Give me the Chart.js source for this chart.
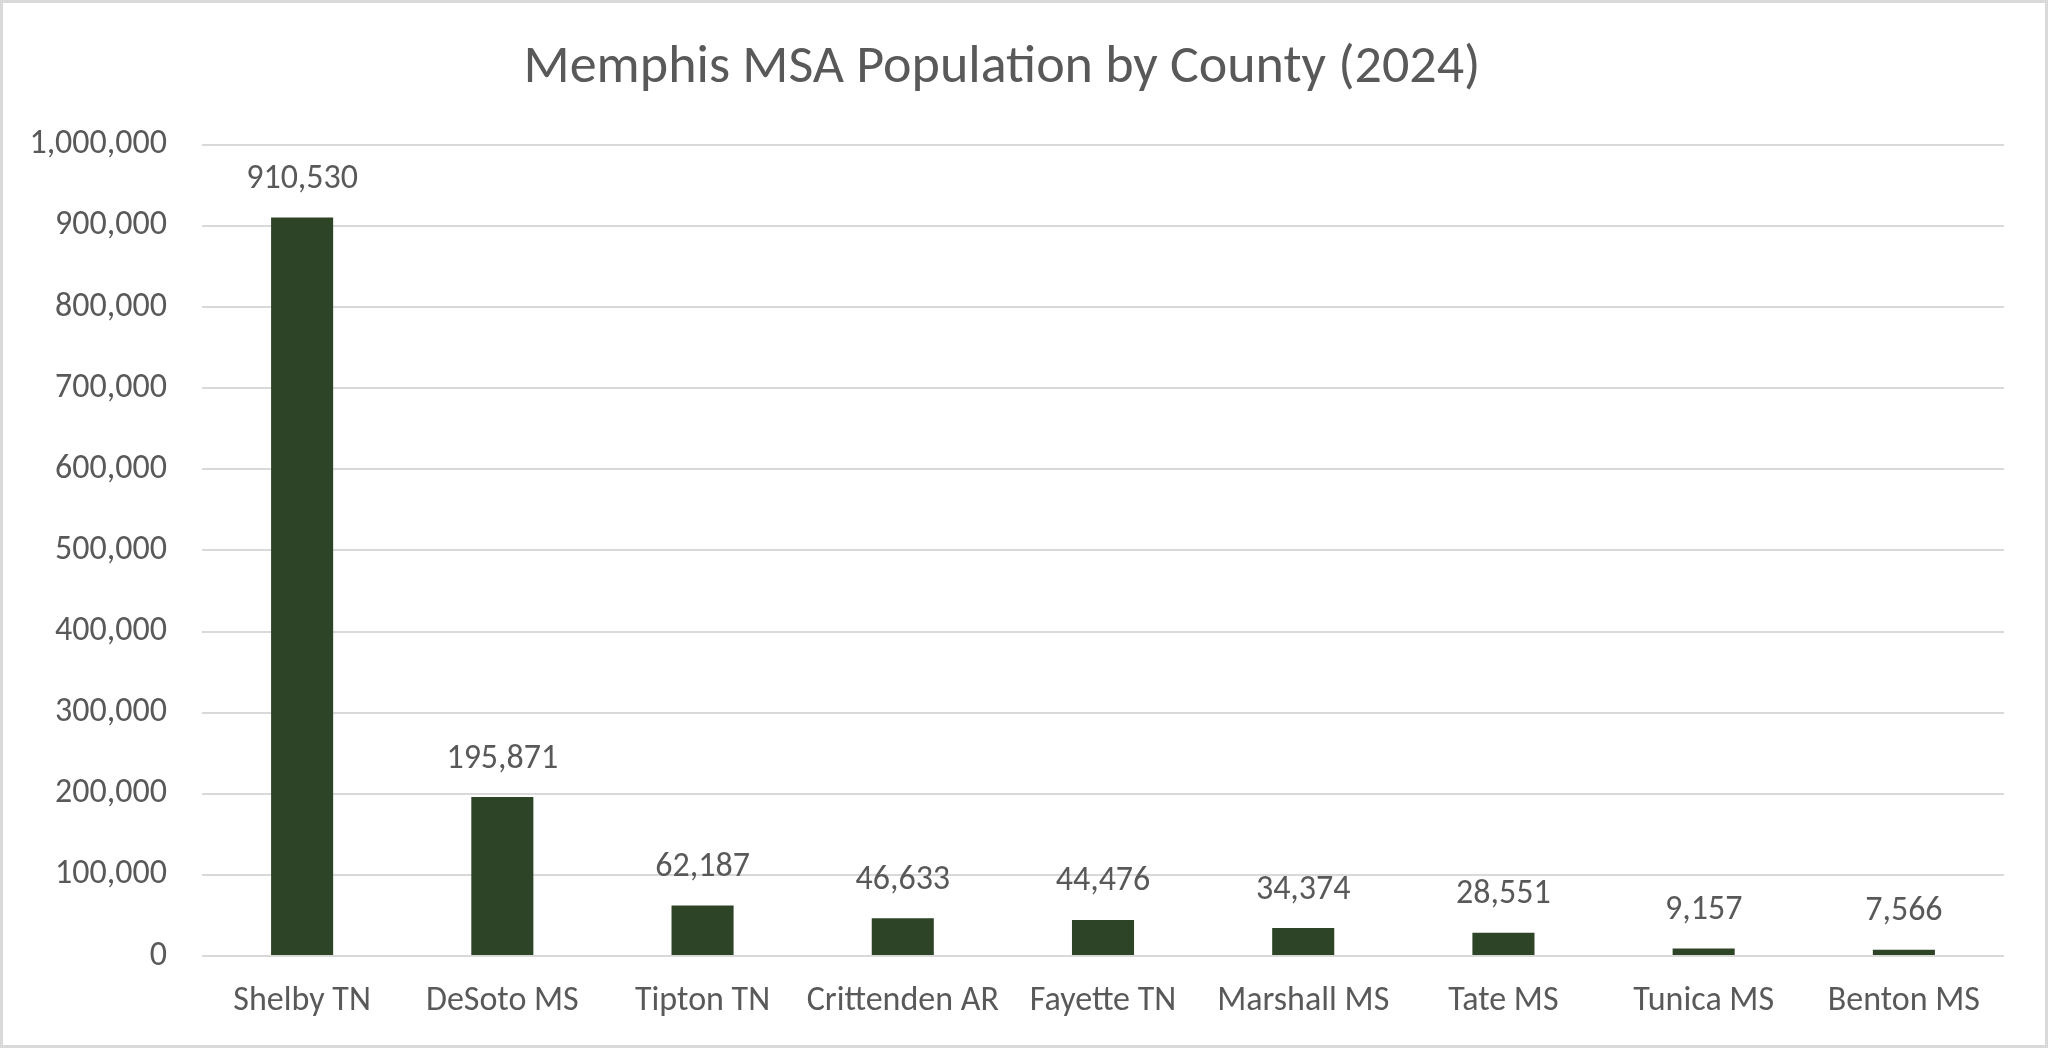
<!DOCTYPE html>
<html>
<head>
<meta charset="utf-8">
<title>Memphis MSA Population by County (2024)</title>
<script src="https://cdn.jsdelivr.net/npm/chart.js@4.4.1/dist/chart.umd.min.js"></script>
<style>
  html, body { margin: 0; padding: 0; background: #fff; }
  #wrap { width: 2048px; height: 1048px; }
</style>
</head>
<body>
<div id="wrap"><canvas id="popChart" width="2048" height="1048"></canvas></div>
<script>
// Chart data
const counties = ['Shelby TN', 'DeSoto MS', 'Tipton TN', 'Crittenden AR', 'Fayette TN',
                  'Marshall MS', 'Tate MS', 'Tunica MS', 'Benton MS'];
const population = [910530, 195871, 62187, 46633, 44476, 34374, 28551, 9157, 7566];
const yTicks = [0, 100000, 200000, 300000, 400000, 500000, 600000, 700000, 800000, 900000, 1000000];

const FONT = "Carlito, Calibri, Lato, sans-serif";
const TEXT = '#595959';

const fmt = v => Number(v).toLocaleString('en-US');

// white background + light frame like the Excel chart area
const framePlugin = {
    id: 'frame',
    beforeDraw(chart) {
        const ctx = chart.ctx;
        ctx.save();
        ctx.fillStyle = '#ffffff';
        ctx.fillRect(0, 0, chart.width, chart.height);
        ctx.restore();
    },
    afterDraw(chart) {
        const ctx = chart.ctx;
        ctx.save();
        ctx.strokeStyle = '#d9d9d9';
        ctx.lineWidth = 3;
        ctx.strokeRect(1.5, 1.5, chart.width - 3, chart.height - 3);
        ctx.restore();
    }
};

// value labels above bars
const valueLabels = {
    id: 'valueLabels',
    afterDatasetsDraw(chart) {
        const ctx = chart.ctx;
        const meta = chart.getDatasetMeta(0);
        ctx.save();
        ctx.font = '34px ' + FONT;
        ctx.fillStyle = TEXT;
        ctx.textAlign = 'center';
        ctx.textBaseline = 'middle';
        meta.data.forEach((bar, i) => {
            ctx.fillText(fmt(chart.data.datasets[0].data[i]), bar.x, bar.y - 38);
        });
        ctx.restore();
    }
};

new Chart(document.getElementById('popChart'), {
    type: 'bar',
    data: {
        labels: counties,
        datasets: [{
            data: population,
            backgroundColor: '#2e4427',
            barPercentage: 0.31,
            categoryPercentage: 1.0
        }]
    },
    options: {
        responsive: false,
        animation: false,
        layout: { padding: { left: 0, right: 44, top: 0, bottom: 0 } },
        plugins: {
            legend: { display: false },
            tooltip: { enabled: false },
            title: {
                display: true,
                text: 'Memphis MSA Population by County (2024)',
                color: TEXT,
                font: { family: FONT, size: 54, weight: 'normal' },
                padding: { top: 36, bottom: 44 }
            }
        },
        scales: {
            x: {
                grid: { display: false, drawTicks: false },
                border: { display: false },
                ticks: {
                    color: TEXT,
                    font: { family: FONT, size: 34 },
                    padding: 25,
                    maxRotation: 0,
                    autoSkip: false
                },
                afterFit(scale) { scale.height = 92; }
            },
            y: {
                min: 0,
                max: 1000000,
                afterBuildTicks(scale) { scale.ticks = yTicks.map(v => ({ value: v })); },
                grid: { color: '#d9d9d9', lineWidth: 2, drawTicks: false },
                border: { display: false },
                ticks: {
                    color: TEXT,
                    font: { family: FONT, size: 34 },
                    padding: 35,
                    callback: v => fmt(v)
                },
                afterFit(scale) { scale.width = 202; }
            }
        }
    },
    plugins: [framePlugin, valueLabels]
});
</script>
</body>
</html>
